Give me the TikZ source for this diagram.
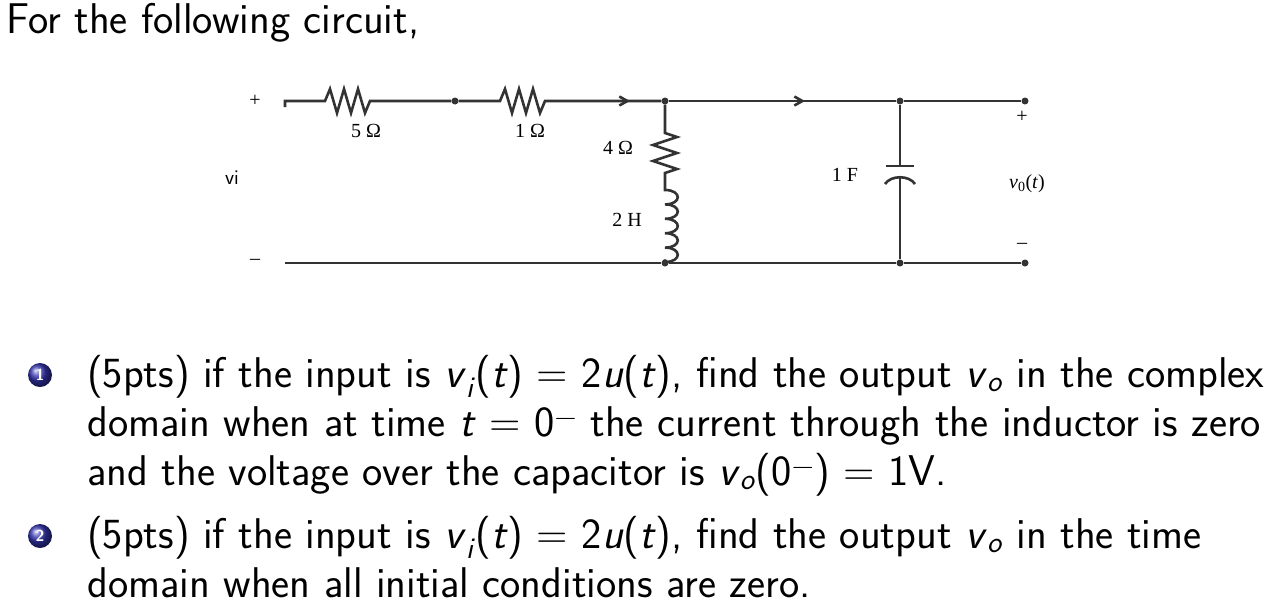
\documentclass[tikz,border=0pt]{standalone}
\usepackage{fontspec}
\newfontfamily\ser{Liberation Serif}
\usetikzlibrary{arrows.meta,shadings}
\begin{document}
\begin{tikzpicture}[x=1pt,y=-1pt,
  wire/.style={line width=2.6pt,black!80},
  lbl/.style={font=\ser\fontsize{20}{20}\selectfont},
  txt/.style={anchor=base west,inner sep=0pt,font=\sffamily\fontsize{43}{50}\selectfont},
  ball/.style={circle,inner sep=0pt,minimum size=24pt,ball color=blue!60!black!80,text=white,font=\sffamily\bfseries\fontsize{16}{16}\selectfont},
  dot/.style={circle,fill=black!80,inner sep=0pt,minimum size=7pt},
  flow/.style={-{Straight Barb[length=8pt,width=9pt]}}]
\useasboundingbox (0,0) rectangle (1285,611);
\node[txt] (title) at (6,33) {For the following circuit,};
% nodes
\coordinate (a) at (285,101);
\node[dot] (n1) at (455,101) {};
\node[dot] (n2) at (665,101) {};
\node[dot] (n3) at (900,101) {};
\node[dot] (t1) at (1025,101) {};
\coordinate (b) at (285,263);
\node[dot] (m2) at (665,263) {};
\node[dot] (m3) at (900,263) {};
\node[dot] (t2) at (1025,263) {};
% top wire with resistors
\draw[wire] (285,107) -- (a) -- (325,101) -- (330,89) -- (337,113) -- (344,89) -- (351,113) -- (358,89) -- (365,113) -- (370,101) -- (n1);
\draw[wire] (n1) -- (500,101) -- (505,89) -- (512,113) -- (519,89) -- (526,113) -- (533,89) -- (540,113) -- (545,101) -- (n2);
\draw[wire,flow] (560,101) -- (630,101);
\draw[wire,flow] (n2) -- (805,101);
\draw[wire] (n2) -- (n3) -- (t1);
\draw[wire] (b) -- (m2) -- (m3) -- (t2);
% vertical branch
\draw[wire] (n2) -- (665,133) -- (677,137) -- (653,145) -- (677,153) -- (653,161) -- (677,169) -- (665,173) -- (665,190)
  \foreach \i in {0,...,4} { .. controls +(17,0) and +(17,0) .. ++(0,14.4) } -- (m2);
% capacitor
\draw[wire] (n3) -- (900,166) (900,177) -- (m3);
\draw[wire] (886,166) -- (914,166);
\draw[wire] (885,184) .. controls (891,175) and (909,175) .. (915,184);
% labels
\node[lbl] (l5) at (366,131) {5 Ω};
\node[lbl] (l1) at (530,131) {1 Ω};
\node[lbl] (l4) at (618,148) {4 Ω};
\node[lbl] (l2) at (627,220) {2 H};
\node[lbl] (lF) at (845,175) {1 F};
\node[lbl] (lv) at (1027,184) {\textit{v}\textsubscript{0}(\textit{t})};
\node[lbl] (pl) at (255,101) {+};
\node[lbl] (mi) at (255,262) {\textendash};
\node[lbl] (pr) at (1022,117) {+};
\node[lbl] (mr) at (1022,246) {\textendash};
\node[font=\sffamily\fontsize{21}{21}\selectfont] (vi) at (232,178) {vi};
% questions
\node[ball] (b1) at (40,375) {1};
\node[ball] (b2) at (40,536) {2};
\node[txt] (q1) at (87,387) {(5pts) if the input is \textit{v}\textsubscript{\textit{i}}(\textit{t}) = 2\textit{u}(\textit{t}), find the output \textit{v}\textsubscript{\textit{o}} in the complex};
\node[txt] (q2) at (87,436) {domain when at time \textit{t} = 0\textsuperscript{−} the current through the inductor is zero};
\node[txt] (q3) at (87,485) {and the voltage over the capacitor is \textit{v}\textsubscript{\textit{o}}(0\textsuperscript{−}) = 1V.};
\node[txt] (q4) at (87,548) {(5pts) if the input is \textit{v}\textsubscript{\textit{i}}(\textit{t}) = 2\textit{u}(\textit{t}), find the output \textit{v}\textsubscript{\textit{o}} in the time};
\node[txt] (q5) at (87,597) {domain when all initial conditions are zero.};
\end{tikzpicture}
\end{document}
